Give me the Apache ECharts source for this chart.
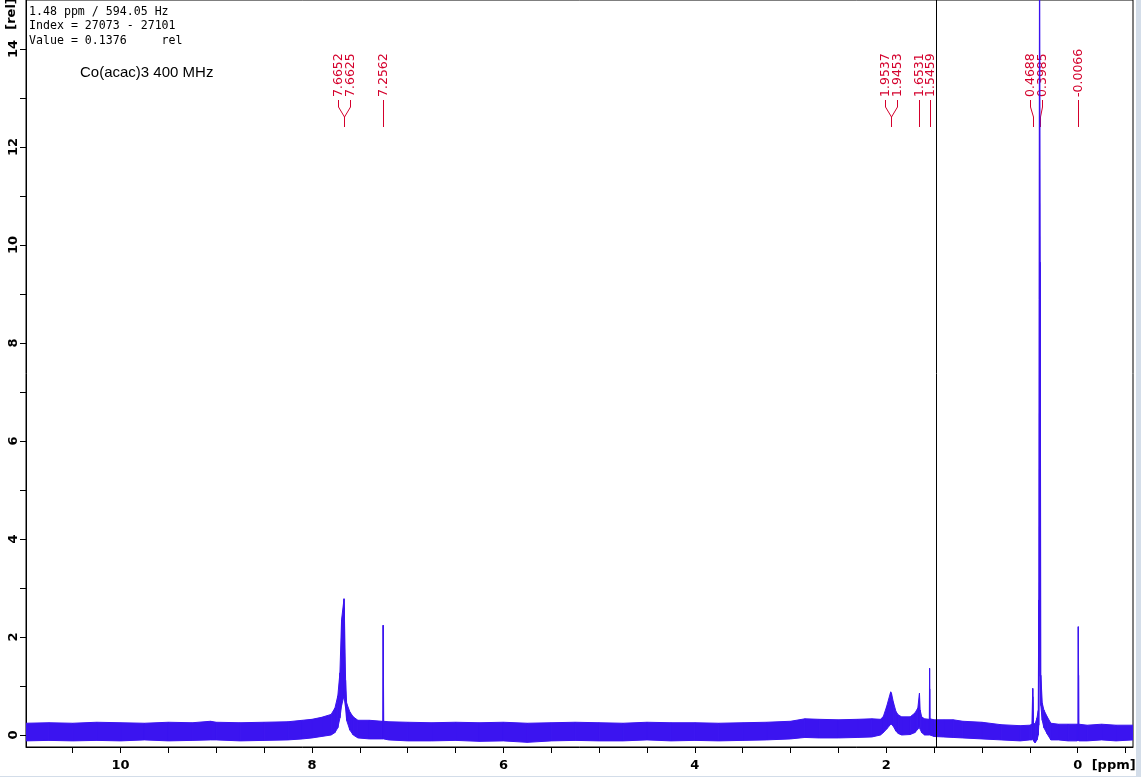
<!DOCTYPE html>
<html><head><meta charset="utf-8">
<script src="https://cdn.jsdelivr.net/npm/echarts@6/dist/echarts.min.js"></script>
<style>
html,body{margin:0;padding:0;background:#d3dde9;overflow:hidden}
#c{width:1136px;height:776px;background:#fff}
</style></head>
<body><div id="c"></div>
<script>
// ---- data (envelope of the trace) ----
const ppm = [10.988,10.75,10.5,10.25,10.0,9.75,9.5,9.25,9.06,9.0,8.75,8.5,8.25,8.1,8.0,7.9,7.8,7.76,7.73,7.708,7.691,7.6652,7.6625,7.649,7.638,7.604,7.569,7.52,7.40,7.27,7.2585,7.2562,7.2530,7.2505,7.20,7.00,6.75,6.50,6.25,6.00,5.75,5.50,5.25,5.00,4.75,4.50,4.25,4.00,3.75,3.50,3.25,3.00,2.85,2.70,2.50,2.30,2.15,2.06,2.03,1.996,1.9537,1.9453,1.927,1.899,1.875,1.839,1.75,1.70,1.67,1.6531,1.646,1.63,1.60,1.550,1.5473,1.5459,1.5440,1.50,1.40,1.30,1.20,1.00,0.80,0.60,0.50,0.478,0.4695,0.4680,0.462,0.445,0.425,0.412,0.4065,0.3985,0.3915,0.385,0.370,0.353,0.318,0.28,0.20,0.10,0.005,-0.0040,-0.0066,-0.0095,-0.012,-0.10,-0.25,-0.40,-0.578];
const upper = [0.24,0.25,0.24,0.26,0.25,0.24,0.26,0.25,0.28,0.26,0.25,0.26,0.27,0.30,0.32,0.36,0.42,0.55,0.80,1.27,2.35,2.78,2.60,1.12,0.65,0.47,0.37,0.30,0.30,0.28,0.28,2.24,1.15,0.28,0.27,0.26,0.25,0.26,0.25,0.26,0.24,0.25,0.26,0.25,0.24,0.26,0.25,0.25,0.24,0.25,0.26,0.28,0.33,0.32,0.31,0.32,0.33,0.32,0.38,0.58,0.88,0.85,0.68,0.48,0.41,0.37,0.37,0.45,0.55,0.85,0.51,0.37,0.33,0.32,1.36,0.94,0.33,0.31,0.31,0.31,0.28,0.26,0.21,0.19,0.20,0.22,0.95,0.78,0.25,0.22,0.35,0.50,2.76,17.0,9.65,1.22,0.65,0.51,0.37,0.24,0.22,0.22,0.22,0.22,2.21,1.22,0.22,0.20,0.22,0.20,0.20];
const lower = [-0.12,-0.11,-0.12,-0.11,-0.12,-0.10,-0.12,-0.11,-0.10,-0.10,-0.12,-0.11,-0.10,-0.08,-0.06,-0.03,0.00,0.05,0.15,0.35,0.60,0.80,0.75,0.55,0.30,0.10,0.00,-0.06,-0.08,-0.08,-0.08,-0.08,-0.08,-0.08,-0.10,-0.12,-0.12,-0.11,-0.13,-0.12,-0.15,-0.12,-0.11,-0.12,-0.12,-0.10,-0.12,-0.11,-0.12,-0.11,-0.10,-0.08,-0.05,-0.06,-0.06,-0.05,-0.04,0.00,0.05,0.12,0.22,0.22,0.18,0.08,0.03,0.00,0.01,0.05,0.12,0.18,0.12,0.05,0.00,0.00,0.00,0.00,0.00,-0.03,-0.04,-0.05,-0.06,-0.08,-0.10,-0.12,-0.10,-0.10,-0.06,-0.06,-0.12,-0.16,-0.10,0.00,0.20,2.76,1.20,0.60,0.30,0.15,0.02,-0.10,-0.10,-0.12,-0.12,-0.10,-0.10,-0.10,-0.12,-0.12,-0.10,-0.12,-0.10];
const peakLabels = [7.6652,7.6625,7.2562,1.9537,1.9453,1.6531,1.5459,0.4688,0.3985,-0.0066];
const cursorPpm = [1.48];
const xTicks = [-0.5,0,0.5,1,1.5,2,2.5,3,3.5,4,4.5,5,5.5,6,6.5,7,7.5,8,8.5,9,9.5,10,10.5];
const xLabels = [0,2,4,6,8,10];
const yTicks = [0,1,2,3,4,5,6,7,8,9,10,11,12,13,14];
const yLabels = [0,2,4,6,8,10,12,14];
const infoLines = ['1.48 ppm / 594.05 Hz','Index = 27073 - 27101','Value = 0.1376     rel'];
const titleText = 'Co(acac)3 400 MHz';
const xUnit = '[ppm]';
const yUnit = '[rel]';

const BLUE = '#3b14f0';
const RED = '#d4002c';

const chart = echarts.init(document.getElementById('c'), null, {renderer:'canvas'});

const option = {
  animation:false,
  backgroundColor:'#fff',
  grid:{left:26,right:3,top:0,bottom:29,show:true,borderColor:'#000',borderWidth:1,backgroundColor:'#fff'},
  xAxis:{
    type:'value', inverse:true, min:-0.578, max:10.988,
    axisLine:{show:true,onZero:false,lineStyle:{color:'#000',width:1}},
    axisTick:{show:true,length:6,inside:false,lineStyle:{color:'#000'},customValues:xTicks},
    axisLabel:{show:true,customValues:xLabels,margin:12,color:'#000',fontFamily:'DejaVu Sans',fontWeight:'bold',fontSize:13},
    splitLine:{show:false}
  },
  yAxis:{
    type:'value', min:-0.245, max:15.0,
    axisLine:{show:true,onZero:false,lineStyle:{color:'#000',width:1}},
    axisTick:{show:true,length:6,inside:false,lineStyle:{color:'#000'},customValues:yTicks},
    axisLabel:{show:true,customValues:yLabels,rotate:90,margin:6,color:'#000',fontFamily:'DejaVu Sans',fontWeight:'bold',fontSize:13},
    splitLine:{show:false}
  },
  series:[
    { // peak labels with connectors
      type:'custom', coordinateSystem:'cartesian2d', clip:false, silent:true, z:2,
      data: peakLabels.map(p=>[p,0]),
      renderItem(params, api){
        const pxs = peakLabels.map(p=>api.coord([p,0])[0]);
        const order = pxs.map((v,i)=>i).sort((a,b)=>pxs[a]-pxs[b]);
        const lx = pxs.slice();
        let g = [order[0]];
        const flush = ()=>{
          if (g.length>1){
            const c = g.reduce((s,k)=>s+pxs[k],0)/g.length;
            g.forEach((k,j)=>{ lx[k] = c + (j-(g.length-1)/2)*12; });
          }
        };
        for (let n=1;n<order.length;n++){
          const k=order[n], prev=order[n-1];
          if (pxs[k]-pxs[prev] < 9) g.push(k); else { flush(); g=[k]; }
        }
        flush();
        const i = params.dataIndex;
        const px = Math.round(pxs[i])+0.5, x2 = Math.round(lx[i])+0.5;
        const pts = Math.abs(px-x2)<0.5 ? [[px,127],[px,100]] : [[px,127],[px,117],[x2,107],[x2,100]];
        return {type:'group',children:[
          {type:'polyline',shape:{points:pts},style:{stroke:RED,lineWidth:1,fill:null}},
          {type:'text',x:x2,y:97,rotation:Math.PI/2,style:{text:peakLabels[i].toFixed(4),fill:RED,font:'12.5px "DejaVu Sans"',align:'left',verticalAlign:'middle'}}
        ]};
      }
    },
    { // spectrum envelope
      type:'custom', coordinateSystem:'cartesian2d', clip:true, silent:true, z:3,
      data: ppm.map((p,i)=>[p,upper[i],lower[i]]),
      encode:{x:0,y:[1,2]},
      renderItem(params, api){
        const i = params.dataIndex;
        if (i >= ppm.length-1) return;
        const a = api.coord([ppm[i],upper[i]]), b = api.coord([ppm[i+1],upper[i+1]]);
        const c = api.coord([ppm[i+1],lower[i+1]]), d = api.coord([ppm[i],lower[i]]);
        return {type:'polygon',shape:{points:[a,b,c,d]},style:{fill:BLUE,stroke:BLUE,lineWidth:1}};
      }
    },
    { // cursor line
      type:'custom', coordinateSystem:'cartesian2d', clip:false, silent:true, z:4,
      data: cursorPpm.map(p=>[p,0]),
      renderItem(params, api){
        const x = Math.round(api.coord([api.value(0),0])[0])+0.5;
        const cs = params.coordSys;
        return {type:'line',shape:{x1:x,y1:cs.y,x2:x,y2:cs.y+cs.height},style:{stroke:'#000',lineWidth:1}};
      }
    }
  ]
};
chart.setOption(option);

const x0 = chart.convertToPixel({xAxisIndex:0}, 0);
chart.setOption({graphic:[
  {type:'text',x:29,y:12,style:{text:infoLines[0],font:'11.6px "DejaVu Sans Mono"',fill:'#000',verticalAlign:'middle'}},
  {type:'text',x:29,y:26,style:{text:infoLines[1],font:'11.6px "DejaVu Sans Mono"',fill:'#000',verticalAlign:'middle'}},
  {type:'text',x:29,y:41,style:{text:infoLines[2],font:'11.6px "DejaVu Sans Mono"',fill:'#000',verticalAlign:'middle'}},
  {type:'text',x:80,y:73,style:{text:titleText,font:'15px "Liberation Sans"',fill:'#000',verticalAlign:'middle'}},
  {type:'text',x:x0+14,y:766,style:{text:xUnit,font:'bold 13px "DejaVu Sans"',fill:'#000',verticalAlign:'middle'}},
  {type:'text',x:12,y:14,rotation:Math.PI/2,style:{text:yUnit,font:'bold 13px "DejaVu Sans"',fill:'#000',align:'center',verticalAlign:'middle'}}
]});
</script>
</body></html>
